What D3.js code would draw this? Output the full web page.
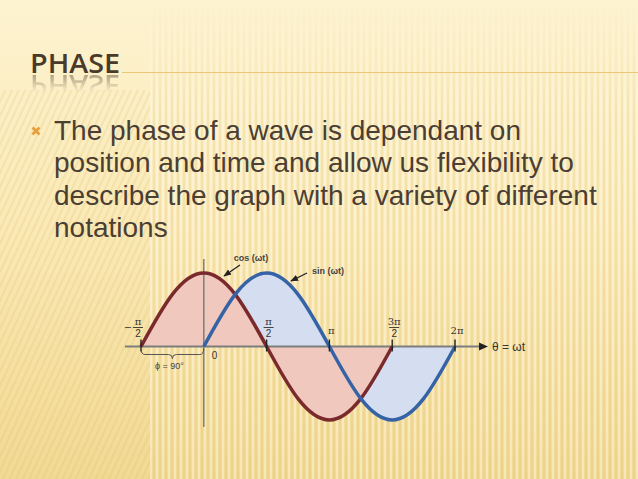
<!DOCTYPE html>
<html lang="en">
<head>
<meta charset="UTF-8">
<title>Phase</title>
<script src="https://d3js.org/d3.v7.min.js"></script>
<style>
  html, body { margin: 0; padding: 0; background: #fcf0c8; }
  svg { display: block; }
</style>
</head>
<body>
<script>
// slide text
const titleText = "PHASE";
const bulletLines = [
    "The phase of a wave is dependant on",
    "position and time and allow us flexibility to",
    "describe the graph with a variety of different",
    "notations"
];

// curve samples (x in units of pi, y as fraction of amplitude)
const cosX = [-0.5, -0.25, 0, 0.25, 0.5, 0.75, 1, 1.25, 1.5];
const cosY = [0, 0.71, 1, 0.71, 0, -0.71, -1, -0.71, 0];
const sinX = [0, 0.25, 0.5, 0.75, 1, 1.25, 1.5, 1.75, 2];
const sinY = [0, 0.71, 1, 0.71, 0, -0.71, -1, -0.71, 0];

// axis ticks
const tickPos = [-0.5, 0.5, 1, 1.5, 2];
const tickLabels = ["−π/2", "π/2", "π", "3π/2", "2π"];

const W = 638, H = 479;
const svg = d3.select("body").append("svg").attr("width", W).attr("height", H);
const defs = svg.append("defs");

// background
const bg = defs.append("linearGradient").attr("id", "bg").attr("x1", 0).attr("y1", 0).attr("x2", 0).attr("y2", 1);
bg.append("stop").attr("offset", "0%").attr("stop-color", "#fdf3d0");
bg.append("stop").attr("offset", "45%").attr("stop-color", "#fbeab8");
bg.append("stop").attr("offset", "100%").attr("stop-color", "#f2d993");
svg.append("rect").attr("width", W).attr("height", H).attr("fill", "url(#bg)");

const stripes = defs.append("pattern").attr("id", "stripes").attr("patternUnits", "userSpaceOnUse")
    .attr("width", 6).attr("height", 6);
stripes.append("rect").attr("x", 0).attr("width", 2).attr("height", 6).attr("fill", "#ffffff").attr("opacity", 0.35);
stripes.append("rect").attr("x", 3).attr("width", 2).attr("height", 6).attr("fill", "#d9b860").attr("opacity", 0.18);
const diag = defs.append("pattern").attr("id", "diag").attr("patternUnits", "userSpaceOnUse")
    .attr("width", 6).attr("height", 6).attr("patternTransform", "rotate(25)");
diag.append("rect").attr("width", 2).attr("height", 6).attr("fill", "#d9b860").attr("opacity", 0.2);

const fade = defs.append("linearGradient").attr("id", "fadeTop").attr("x1", 0).attr("y1", 0).attr("x2", 0).attr("y2", 1);
fade.append("stop").attr("offset", "0%").attr("stop-color", "#fff").attr("stop-opacity", 0);
fade.append("stop").attr("offset", "25%").attr("stop-color", "#fff").attr("stop-opacity", 1);
defs.append("mask").attr("id", "mStripes").append("rect").attr("width", W).attr("height", H).attr("fill", "url(#fadeTop)");
svg.append("rect").attr("x", 150).attr("width", W - 150).attr("height", H)
    .attr("fill", "url(#stripes)").attr("mask", "url(#mStripes)");
svg.append("rect").attr("x", 0).attr("y", 90).attr("width", 150).attr("height", H - 90)
    .attr("fill", "url(#diag)");

// title
svg.append("line").attr("x1", 122).attr("x2", W).attr("y1", 72.5).attr("y2", 72.5)
    .attr("stroke", "#ebc777").attr("stroke-width", 1);
defs.append("text").attr("id", "titleGlyphs").attr("x", 30).attr("y", 73)
    .attr("font-family", "'Open Sans', sans-serif").attr("font-weight", 600)
    .attr("font-size", 27).attr("fill", "#4a3a29")
    .attr("textLength", 90).attr("lengthAdjust", "spacingAndGlyphs")
    .text(titleText);
svg.append("use").attr("href", "#titleGlyphs");

// faded reflection of the title
const refl = defs.append("linearGradient").attr("id", "refl").attr("x1", 0).attr("y1", 0).attr("x2", 0).attr("y2", 1);
refl.append("stop").attr("offset", "0%").attr("stop-color", "#fff").attr("stop-opacity", 0.45);
refl.append("stop").attr("offset", "100%").attr("stop-color", "#fff").attr("stop-opacity", 0);
defs.append("mask").attr("id", "mRefl").attr("maskUnits", "userSpaceOnUse")
    .append("rect").attr("x", 25).attr("y", 74).attr("width", 100).attr("height", 18).attr("fill", "url(#refl)");
svg.append("g").attr("mask", "url(#mRefl)")
    .append("use").attr("href", "#titleGlyphs").attr("transform", "translate(0,148) scale(1,-1)");

// bullet
const bx = 36, by = 131;
svg.append("path").attr("d", `M${bx - 3.5},${by - 3.5}L${bx + 3.5},${by + 3.5}M${bx + 3.5},${by - 3.5}L${bx - 3.5},${by + 3.5}`)
    .attr("stroke", "#e89c3a").attr("stroke-width", 2.6);
svg.append("g").selectAll("text").data(bulletLines).join("text")
    .attr("x", 54).attr("y", (d, i) => 140 + i * 32.4)
    .attr("font-family", "'Liberation Sans', Arial, sans-serif")
    .attr("font-size", 28).attr("fill", "#4b3e33")
    .text(d => d);

// chart
const x = d3.scaleLinear().domain([-0.5, 2]).range([141, 455]);
const y = d3.scaleLinear().domain([-1, 1]).range([420, 273]);
const cosData = cosX.map((v, i) => [v, cosY[i]]);
const sinData = sinX.map((v, i) => [v, sinY[i]]);

const line = d3.line().x(d => x(d[0])).y(d => y(d[1])).curve(d3.curveNatural);
const area = d3.area().x(d => x(d[0])).y0(y(0)).y1(d => y(d[1])).curve(d3.curveNatural);

const g = svg.append("g");
g.append("path").attr("d", area(sinData)).attr("fill", "#d5def0");
g.append("path").attr("d", area(cosData)).attr("fill", "#f1c8bd");

// axes
g.append("line").attr("x1", x(0)).attr("x2", x(0)).attr("y1", 259).attr("y2", 427)
    .attr("stroke", "#7d7d7d").attr("stroke-width", 1.5);
g.append("line").attr("x1", 125).attr("x2", 482).attr("y1", y(0)).attr("y2", y(0))
    .attr("stroke", "#7d7d7d").attr("stroke-width", 2);
g.append("path").attr("d", `M479,${y(0) - 4}L488,${y(0)}L479,${y(0) + 4}Z`).attr("fill", "#222");
g.append("text").attr("x", 492).attr("y", y(0) + 4)
    .attr("font-family", "'Liberation Sans', Arial, sans-serif").attr("font-size", 12).attr("fill", "#333")
    .text("θ = ωt");

g.append("path").attr("d", line(cosData)).attr("fill", "none").attr("stroke", "#7a2a2c").attr("stroke-width", 3.5);
g.append("path").attr("d", line(sinData)).attr("fill", "none").attr("stroke", "#3563a6").attr("stroke-width", 3.5);

// ticks and fraction labels
g.selectAll(".tick").data(tickPos).join("line")
    .attr("x1", d => x(d)).attr("x2", d => x(d)).attr("y1", y(0) - 7).attr("y2", y(0) + 5)
    .attr("stroke", "#222").attr("stroke-width", 1.4);

const lab = g.selectAll(".lab").data(tickPos.map((p, i) => ({ p, s: tickLabels[i] }))).join("g")
    .attr("transform", d => `translate(${x(d.p) + (d.p < 0 ? -3 : 2)},0)`)
    .attr("font-family", "'DejaVu Serif', serif").attr("font-size", 10).attr("fill", "#333")
    .attr("text-anchor", "middle");
lab.each(function (d) {
    const s = d3.select(this);
    let txt = d.s;
    if (txt.startsWith("−")) {
        s.append("text").attr("x", -10).attr("y", 331).text("−");
        txt = txt.slice(1);
    }
    const parts = txt.split("/");
    if (parts.length === 2) {
        s.append("text").attr("y", 325).text(parts[0]);
        s.append("line").attr("x1", -5).attr("x2", 5).attr("y1", 327.5).attr("y2", 327.5).attr("stroke", "#333").attr("stroke-width", 0.9);
        s.append("text").attr("y", 337).attr("font-family", "'Liberation Sans', Arial, sans-serif").text(parts[1]);
    } else {
        s.append("text").attr("y", 334).text(parts[0]);
    }
});

g.append("text").attr("x", x(0) + 8).attr("y", 359)
    .attr("font-family", "'Liberation Sans', Arial, sans-serif").attr("font-size", 10).attr("fill", "#333").text("0");

// phase brace
const b0 = x(-0.5), b1 = x(0), bm = (b0 + b1) / 2, yb = y(0) + 2;
g.append("path")
    .attr("d", `M${b0},${yb}Q${b0},${yb + 6} ${b0 + 4},${yb + 6}L${bm - 4},${yb + 6}Q${bm},${yb + 6} ${bm},${yb + 10}Q${bm},${yb + 6} ${bm + 4},${yb + 6}L${b1 - 4},${yb + 6}Q${b1},${yb + 6} ${b1},${yb}`)
    .attr("fill", "none").attr("stroke", "#555").attr("stroke-width", 1);
g.append("text").attr("x", bm - 3).attr("y", 369).attr("text-anchor", "middle")
    .attr("font-family", "'Liberation Sans', Arial, sans-serif").attr("font-size", 9).attr("fill", "#444")
    .text("ϕ = 90°");

// curve callouts
defs.append("marker").attr("id", "arr").attr("viewBox", "0 0 10 10").attr("refX", 9).attr("refY", 5)
    .attr("markerWidth", 6).attr("markerHeight", 6).attr("orient", "auto")
    .append("path").attr("d", "M0,1L10,5L0,9Z").attr("fill", "#222");
g.append("text").attr("x", 251).attr("y", 261).attr("text-anchor", "middle")
    .attr("font-family", "'Liberation Sans', Arial, sans-serif").attr("font-size", 9).attr("font-weight", "bold").attr("fill", "#444")
    .text("cos (ωt)");
g.append("line").attr("x1", 240).attr("y1", 265).attr("x2", 224).attr("y2", 276)
    .attr("stroke", "#222").attr("stroke-width", 1.3).attr("marker-end", "url(#arr)");
g.append("text").attr("x", 328).attr("y", 274).attr("text-anchor", "middle")
    .attr("font-family", "'Liberation Sans', Arial, sans-serif").attr("font-size", 9).attr("font-weight", "bold").attr("fill", "#444")
    .text("sin (ωt)");
g.append("line").attr("x1", 307).attr("y1", 273).attr("x2", 291).attr("y2", 281)
    .attr("stroke", "#222").attr("stroke-width", 1.3).attr("marker-end", "url(#arr)");
</script>
</body>
</html>
